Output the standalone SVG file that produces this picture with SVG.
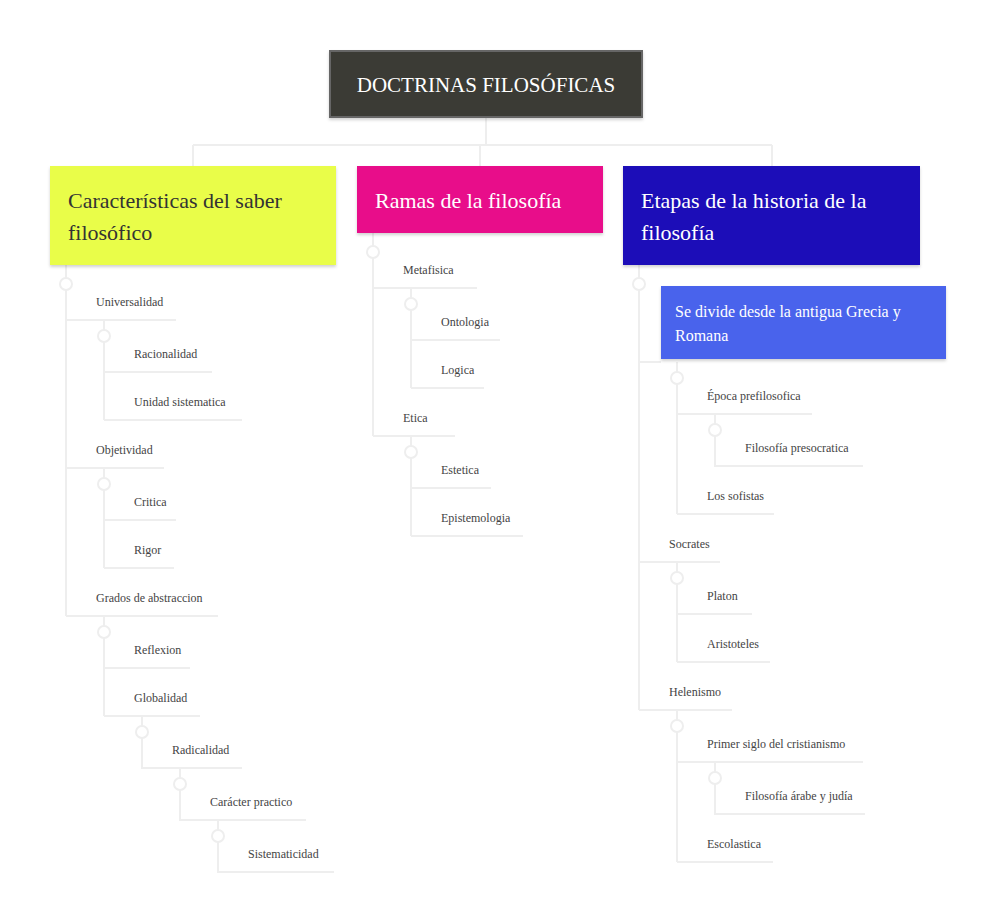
<svg xmlns="http://www.w3.org/2000/svg" width="997" height="920" viewBox="0 0 997 920">
<defs>
<filter id="sh" x="-5%" y="-5%" width="110%" height="120%"><feDropShadow dx="0" dy="2" stdDeviation="1.5" flood-color="#000" flood-opacity="0.18"/></filter>
</defs>
<style>
.c path,.c line{stroke:#eeeeee;stroke-width:2;fill:none}
.c circle{fill:#fff;stroke:#eeeeee;stroke-width:2}
.t{font-family:"Liberation Serif","DejaVu Serif",serif;font-size:12px;fill:#444}
.h{font-family:"Liberation Serif","DejaVu Serif",serif;font-size:22px}
</style>
<rect width="997" height="920" fill="#fff"/>
<g class="c" id="connectors">
<path d="M486 117V145M193 145H772M193 145V166M480 145V166M772 145V166"/>
<path d="M66 265V616M66 320H176M66 468H164M66 616H218"/>
<path d="M104 320V420M104 372H212M104 420H242"/>
<path d="M104 468V568M104 520H176M104 568H174"/>
<path d="M104 616V716M104 668H190M104 716H200M142 716V768H242M180 768V820H306M218 820V872H334"/>
<path d="M373 233V436M373 288H477M373 436H455M411 288V388M411 340H500M411 388H484M411 436V536M411 488H491M411 536H523"/>
<path d="M639 265V710M639 362H661M639 562H720M639 710H732"/>
<path d="M677 362V514M677 414H812M677 514H774M715 414V466H863"/>
<path d="M677 562V662M677 614H752M677 662H770"/>
<path d="M677 710V862M677 762H863M677 862H773M715 762V814H865"/>
<circle cx="66" cy="284" r="6"/><circle cx="104" cy="336" r="6"/><circle cx="104" cy="484" r="6"/><circle cx="104" cy="632" r="6"/><circle cx="142" cy="732" r="6"/><circle cx="180" cy="784" r="6"/><circle cx="218" cy="836" r="6"/>
<circle cx="373" cy="252" r="6"/><circle cx="411" cy="304" r="6"/><circle cx="411" cy="452" r="6"/>
<circle cx="639" cy="284" r="6"/><circle cx="677" cy="378" r="6"/><circle cx="715" cy="430" r="6"/><circle cx="677" cy="578" r="6"/><circle cx="677" cy="726" r="6"/><circle cx="715" cy="778" r="6"/>
</g>
<g id="root"><rect x="330" y="51" width="312" height="66" fill="#3a3a35" stroke="#666" stroke-width="2" filter="url(#sh)"/><text x="486" y="92" text-anchor="middle" class="h" style="font-size:21px" fill="#fff">DOCTRINAS FILOSÓFICAS</text></g>
<g id="caracteristicas"><rect x="50" y="166" width="286" height="99" fill="#e9fd4a" filter="url(#sh)"/><text class="h" fill="#333" x="68" y="208">Características del saber</text><text class="h" fill="#333" x="68" y="240">filosófico</text></g>
<g id="ramas"><rect x="357" y="166" width="246" height="67" fill="#e8118a" filter="url(#sh)"/><text class="h" fill="#fff" x="375" y="208">Ramas de la filosofía</text></g>
<g id="etapas"><rect x="623" y="166" width="297" height="99" fill="#1a0ab8" filter="url(#sh)"/><text class="h" fill="#fff" x="641" y="208">Etapas de la historia de la</text><text class="h" fill="#fff" x="641" y="240">filosofía</text></g>
<g id="divide"><rect x="661" y="286" width="285" height="73" fill="#4a63ec" filter="url(#sh)"/><text class="h" style="font-size:16px" fill="#fff" x="675" y="317">Se divide desde la antigua Grecia y</text><text class="h" style="font-size:16px" fill="#fff" x="675" y="341">Romana</text></g>
<g id="leaves">
<text class="t" x="96" y="306">Universalidad</text>
<text class="t" x="134" y="358">Racionalidad</text>
<text class="t" x="134" y="406">Unidad sistematica</text>
<text class="t" x="96" y="454">Objetividad</text>
<text class="t" x="134" y="506">Critica</text>
<text class="t" x="134" y="554">Rigor</text>
<text class="t" x="96" y="602">Grados de abstraccion</text>
<text class="t" x="134" y="654">Reflexion</text>
<text class="t" x="134" y="702">Globalidad</text>
<text class="t" x="172" y="754">Radicalidad</text>
<text class="t" x="210" y="806">Carácter practico</text>
<text class="t" x="248" y="858">Sistematicidad</text>
<text class="t" x="403" y="274">Metafisica</text>
<text class="t" x="441" y="326">Ontologia</text>
<text class="t" x="441" y="374">Logica</text>
<text class="t" x="403" y="422">Etica</text>
<text class="t" x="441" y="474">Estetica</text>
<text class="t" x="441" y="522">Epistemologia</text>
<text class="t" x="707" y="400">Época prefilosofica</text>
<text class="t" x="745" y="452">Filosofía presocratica</text>
<text class="t" x="707" y="500">Los sofistas</text>
<text class="t" x="669" y="548">Socrates</text>
<text class="t" x="707" y="600">Platon</text>
<text class="t" x="707" y="648">Aristoteles</text>
<text class="t" x="669" y="696">Helenismo</text>
<text class="t" x="707" y="748">Primer siglo del cristianismo</text>
<text class="t" x="745" y="800">Filosofía árabe y judía</text>
<text class="t" x="707" y="848">Escolastica</text>
</g>
</svg>
